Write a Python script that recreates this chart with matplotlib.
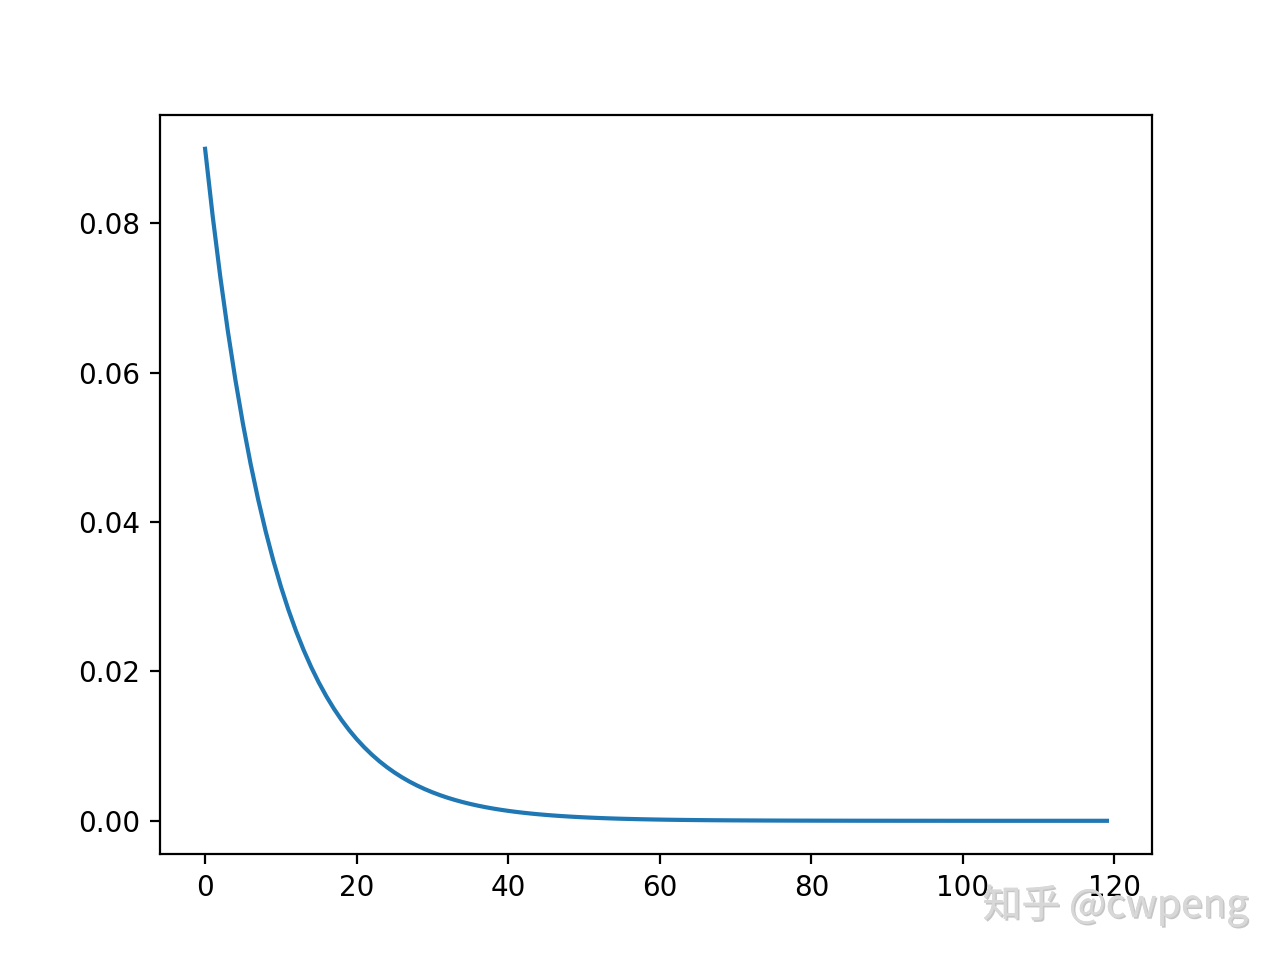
import matplotlib
matplotlib.use('Agg')
import matplotlib.pyplot as plt
import matplotlib.patheffects as pe

# values, one per integer step 0..119
steps = list(range(120))
values = [
    0.09, 0.081, 0.0729, 0.06561, 0.059049, 0.053144, 0.047830, 0.043047, 0.038742, 0.034868,
    0.031381, 0.028243, 0.025419, 0.022877, 0.020589, 0.018530, 0.016677, 0.015009, 0.013509, 0.012158,
    0.010942, 0.009848, 0.008863, 0.007977, 0.007179, 0.006461, 0.005815, 0.005233, 0.004710, 0.004239,
    0.003815, 0.003434, 0.003090, 0.002781, 0.002503, 0.002253, 0.002028, 0.001825, 0.001642, 0.001478,
    0.001330, 0.001197, 0.001078, 0.000970, 0.000873, 0.000786, 0.000707, 0.000636, 0.000573, 0.000515,
    0.000464, 0.000417, 0.000376, 0.000338, 0.000304, 0.000274, 0.000247, 0.000222, 0.000200, 0.000180,
    0.000162, 0.000146, 0.000131, 0.000118, 0.000106, 0.0000957, 0.0000861, 0.0000775, 0.0000698, 0.0000628,
    0.0000565, 0.0000509, 0.0000458, 0.0000412, 0.0000371, 0.0000334, 0.0000300, 0.0000270, 0.0000243, 0.0000219,
    0.0000197, 0.0000177, 0.0000160, 0.0000144, 0.0000129, 0.0000116, 0.0000105, 0.0000094, 0.0000085, 0.0000076,
    0.0000069, 0.0000062, 0.0000056, 0.0000050, 0.0000045, 0.0000041, 0.0000036, 0.0000033, 0.0000030, 0.0000027,
    0.0000024, 0.0000022, 0.0000019, 0.0000017, 0.0000016, 0.0000014, 0.0000013, 0.0000011, 0.0000010, 0.0000009,
    0.0000008, 0.0000007, 0.0000007, 0.0000006, 0.0000005, 0.0000005, 0.0000004, 0.0000004, 0.0000003, 0.0000003,
]

watermark = '知乎 @cwpeng'

fig, ax = plt.subplots(figsize=(6.4, 4.8), dpi=200)
ax.plot(steps, values)

# watermark, light grey with a faint drop shadow
fig.text(0.975, 0.057, watermark, ha='right', va='center', fontsize=14,
         color='#d8d8d8', family=['Noto Sans CJK SC', 'DejaVu Sans'],
         path_effects=[pe.withSimplePatchShadow(offset=(0.6, -0.6), shadow_rgbFace='#a0a0a0', alpha=0.6),
                       pe.Normal()])

fig.savefig('out.png', dpi=200)
